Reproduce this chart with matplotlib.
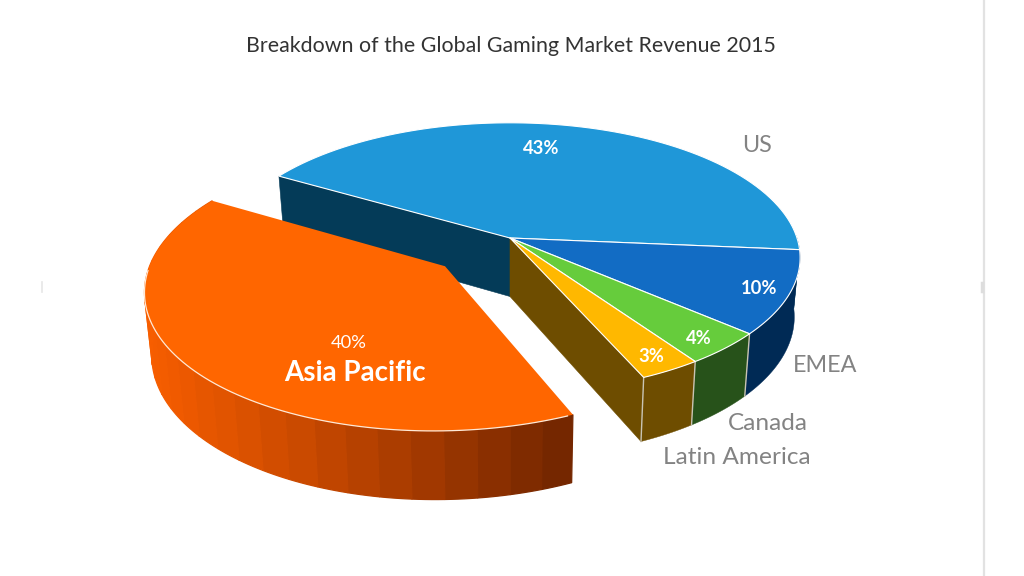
import numpy as np
import matplotlib
matplotlib.use("Agg")
import matplotlib.pyplot as plt
from matplotlib.patches import Polygon

# Revenue share by region, in percent, clockwise from the back-left edge
categories = ["US", "EMEA", "Canada", "Latin America", "Asia Pacific"]
shares = [43, 10, 4, 3, 40]
top_colors = ["#1f97d8", "#126cc4", "#66cc3c", "#ffb800", "#ff6600"]
side_colors = ["#043b58", "#002a55", "#27521a", "#6e4d00", None]

title = "Breakdown of the Global Gaming Market Revenue 2015"

# Projection of the tilted disc onto the canvas
CX, TOP_Y, BOTTOM_Y = 510.0, 238.0, 296.5
RADIUS, TILT, PERSP = 287.0, 0.46, 0.146
BOTTOM_SX, BOTTOM_SY = 0.98, 1.04
START_DEG = -149.8
EXPLODE = 0.295
EXPLODED_DROP = 1.5
EXPLODED_WALL_EXTRA = 2.5


def project(u, v, bottom=False):
    w = 1 - PERSP * v
    x, y = RADIUS * u / w, RADIUS * TILT * v / w
    if bottom:
        return np.column_stack([CX + BOTTOM_SX * x, BOTTOM_Y + BOTTOM_SY * y])
    return np.column_stack([CX + x, TOP_Y + y])


def rim(a0, a1, offset=(0.0, 0.0), bottom=False, n=80):
    t = np.radians(np.linspace(a0, a1, n))
    return project(np.cos(t) + offset[0], np.sin(t) + offset[1], bottom)


def hub(offset=(0.0, 0.0), bottom=False):
    return project(np.array([offset[0]]), np.array([offset[1]]), bottom)


edges = START_DEG + np.concatenate([[0], np.cumsum(shares)]) * 3.6
spans = list(zip(edges[:-1], edges[1:]))

fig = plt.figure(figsize=(10.24, 5.76), dpi=100, facecolor="white")
ax = fig.add_axes([0, 0, 1, 1])
ax.set_xlim(0, 1024)
ax.set_ylim(576, 0)
ax.axis("off")

# Page edge and its small handles
ax.axvline(984, color="#e2e2e2", lw=1.6, zorder=0)
ax.plot([42, 42], [282, 292], color="#e6e6e6", lw=1.2, zorder=0)
ax.plot([982, 982], [283, 291], color="#dddddd", lw=2.5, zorder=0)

# Cut faces of the unexploded group
us0, us1 = spans[0]
la0, la1 = spans[3]
for ang, col in ((us0, side_colors[0]), (la1, side_colors[3])):
    outer_top = rim(ang, ang, n=1)
    outer_bot = rim(ang, ang, bottom=True, n=1)
    ax.add_patch(Polygon(np.vstack([hub(), outer_top, outer_bot, hub(bottom=True)]),
                         fc=col, ec=col, lw=0.4, zorder=1))

# Outer walls of the small slices
for i in (0, 1, 2, 3):
    a0, a1 = spans[i]
    if i == 0:
        a0 = a1 - 6
    top = rim(a0, a1)
    bot = rim(a0, a1, bottom=True)
    ax.add_patch(Polygon(np.vstack([top, bot[::-1]]), fc=side_colors[i],
                         ec=side_colors[i], lw=0.3, zorder=2))
for a in edges[2:5]:
    ax.plot(*np.vstack([rim(a, a, n=1), rim(a, a, bottom=True, n=1)]).T,
            color="#c9c4b4", lw=1.0, zorder=3)

# Top faces of the unexploded slices
for i in range(4):
    a0, a1 = spans[i]
    ax.add_patch(Polygon(np.vstack([hub(), rim(a0, a1)]), fc=top_colors[i],
                         ec="white", lw=0.8, joinstyle="round", zorder=4))

# Exploded slice: faceted wall, shaded by horizontal position
a0, a1 = spans[4]
mid = np.radians((a0 + a1) / 2)
offset = (EXPLODE * np.cos(mid), EXPLODE * np.sin(mid))
drop = np.array([0.0, EXPLODED_DROP])
wall_drop = drop + np.array([0.0, EXPLODED_WALL_EXTRA])
n_facets = 26
facet_edges = np.linspace(a0, a1, n_facets + 1)
shade_x = [150, 300, 430, 570]
shade_rgb = np.array([matplotlib.colors.to_rgb(c)
                      for c in ("#f85e00", "#cb4a00", "#a03800", "#702500")])
for j in range(n_facets):
    top = rim(facet_edges[j], facet_edges[j + 1], offset, n=6) + drop
    bot = rim(facet_edges[j], facet_edges[j + 1], offset, bottom=True, n=6) + wall_drop
    xm = bot[:, 0].mean()
    rgb = [np.interp(xm, shade_x, shade_rgb[:, k]) for k in range(3)]
    ax.add_patch(Polygon(np.vstack([top, bot[::-1]]), fc=rgb, ec=rgb, lw=0.9, zorder=5 + j / 100))
ax.add_patch(Polygon(np.vstack([hub(offset) + drop, rim(a0, a1, offset) + drop]),
                     fc=top_colors[4], ec="none", zorder=6))
ax.plot(*(rim(a0 + 1, a1 - 32, offset) + drop).T, color="#ffe9d6", lw=0.9, zorder=7)

font = "Lato"
ax.text(511, 46, title, ha="center", va="center", fontsize=15.4, color="#333333", family=font)

# Region names outside the pie
outer_labels = {"US": (757, 146, 16.8), "EMEA": (825, 366, 16.8), "Canada": (768, 424, 17.6),
                "Latin America": (737, 458, 17.6)}
for name, (x, y, size) in outer_labels.items():
    ax.text(x, y, name, ha="center", va="center", fontsize=size, color="#838383", family=font)

# Percent labels on the slices
pct_pos = [(541, 149), (759, 288), (699, 339), (651, 357), (349, 343)]
for val, (x, y) in zip(shares, pct_pos):
    ax.text(x, y, f"{val}%", ha="center", va="center", fontsize=13.2, color="white",
            family=font, fontweight="bold" if val != 40 else "normal", zorder=8)
ax.text(355, 373, categories[4], ha="center", va="center", fontsize=20, color="white",
        family=font, fontweight="bold", zorder=8)

fig.savefig("out.png", dpi=100, facecolor="white")
